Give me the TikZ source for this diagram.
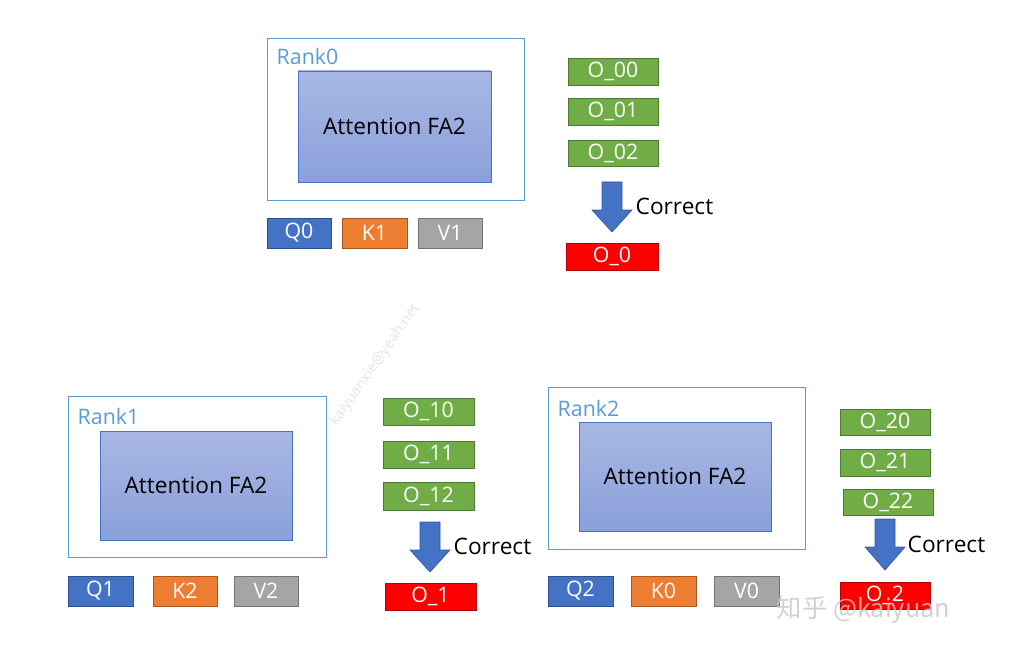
\documentclass[tikz,border=0pt]{standalone}
\usepackage{fontspec}
\setmainfont{Open Sans}
\newfontfamily\cjk{Noto Sans CJK SC}
\begin{document}
\begin{tikzpicture}[x=0.75pt,y=-0.75pt,
  rank/.style={draw=rankblue,line width=0.6pt},
  fa/.style={draw=fablue,line width=0.6pt,top color=fatop,bottom color=fabot},
  blk/.style={draw=#1!70!black,fill=#1,line width=0.5pt},
  lbl/.style={font=\fontsize{16}{18}\selectfont,text=white},
  big/.style={font=\fontsize{17}{20}\selectfont},
  rk/.style={font=\fontsize{16}{18}\selectfont,text=rankblue,anchor=west}]
\definecolor{rankblue}{HTML}{5B9BD5}
\definecolor{fablue}{HTML}{4472C4}
\definecolor{fatop}{HTML}{A9B8E4}
\definecolor{fabot}{HTML}{8AA0DA}
\definecolor{qblue}{HTML}{4472C4}
\definecolor{korange}{HTML}{ED7D31}
\definecolor{vgray}{HTML}{A5A5A5}
\definecolor{ogreen}{HTML}{70AD47}
\definecolor{ored}{HTML}{FF0000}
\useasboundingbox (0,0) rectangle (1010,656);
\newcommand\blkbox[6]{\draw[blk=#5] (#1,#2) rectangle (#3,#4) node[midway,lbl]{#6};}
\newcommand\dnarrow[3]{\fill[qblue,draw=qblue!80!black,line width=0.5pt] (#1-10,#2) -- (#1+10,#2) -- (#1+10,#2+28) -- (#1+20,#2+28) -- (#1,#3) -- (#1-20,#2+28) -- (#1-10,#2+28) -- cycle;}
% watermark
\node[rotate=55,text=gray!20,font=\fontsize{11}{13}\selectfont] (wm) at (375,365) {kaiyuanxie@yeah.net};
% Rank0
\draw[rank] (267,38) rectangle (524,200);
\node[rk] (r0) at (272,57) {Rank0};
\draw[fa] (298,71) rectangle (491,182) node[midway,big] {Attention FA2};
\blkbox{267}{218}{331}{248}{qblue}{Q0}
\blkbox{342}{218}{407}{248}{korange}{K1}
\blkbox{418}{218}{482}{248}{vgray}{V1}
\blkbox{568}{58}{658}{85}{ogreen}{O\_00}
\blkbox{568}{98}{658}{125}{ogreen}{O\_01}
\blkbox{568}{140}{658}{166}{ogreen}{O\_02}
\dnarrow{612}{182}{232}
\node[anchor=west,big] (c0) at (631,206) {Correct};
\blkbox{566}{243}{658}{270}{ored}{O\_0}
% Rank1
\draw[rank] (68,396) rectangle (326,557);
\node[rk] (r1) at (73,416) {Rank1};
\draw[fa] (100,431) rectangle (292,540) node[midway,big] {Attention FA2};
\blkbox{68}{576}{133}{606}{qblue}{Q1}
\blkbox{153}{576}{217}{606}{korange}{K2}
\blkbox{234}{576}{298}{606}{vgray}{V2}
\blkbox{383}{398}{474}{425}{ogreen}{O\_10}
\blkbox{383}{441}{474}{468}{ogreen}{O\_11}
\blkbox{383}{482}{474}{510}{ogreen}{O\_12}
\dnarrow{430}{522}{572}
\node[anchor=west,big] (c1) at (449,546) {Correct};
\blkbox{385}{583}{476}{610}{ored}{O\_1}
% Rank2
\draw[rank] (548,387) rectangle (805,549);
\node[rk] (r2) at (553,408) {Rank2};
\draw[fa] (579,422) rectangle (771,531) node[midway,big] {Attention FA2};
\blkbox{548}{576}{613}{606}{qblue}{Q2}
\blkbox{631}{576}{696}{606}{korange}{K0}
\blkbox{714}{576}{779}{606}{vgray}{V0}
\blkbox{840}{409}{930}{435}{ogreen}{O\_20}
\blkbox{840}{449}{930}{476}{ogreen}{O\_21}
\blkbox{843}{489}{933}{515}{ogreen}{O\_22}
\dnarrow{885}{519}{570}
\node[anchor=west,big] (c2) at (903,544) {Correct};
\blkbox{840}{582}{930}{609}{ored}{O\_2}
\node[anchor=west,text=gray!45,font=\cjk\fontsize{19}{22}\selectfont,opacity=0.8] (zh) at (772,610) {知乎 @kaiyuan};
\end{tikzpicture}
\end{document}
